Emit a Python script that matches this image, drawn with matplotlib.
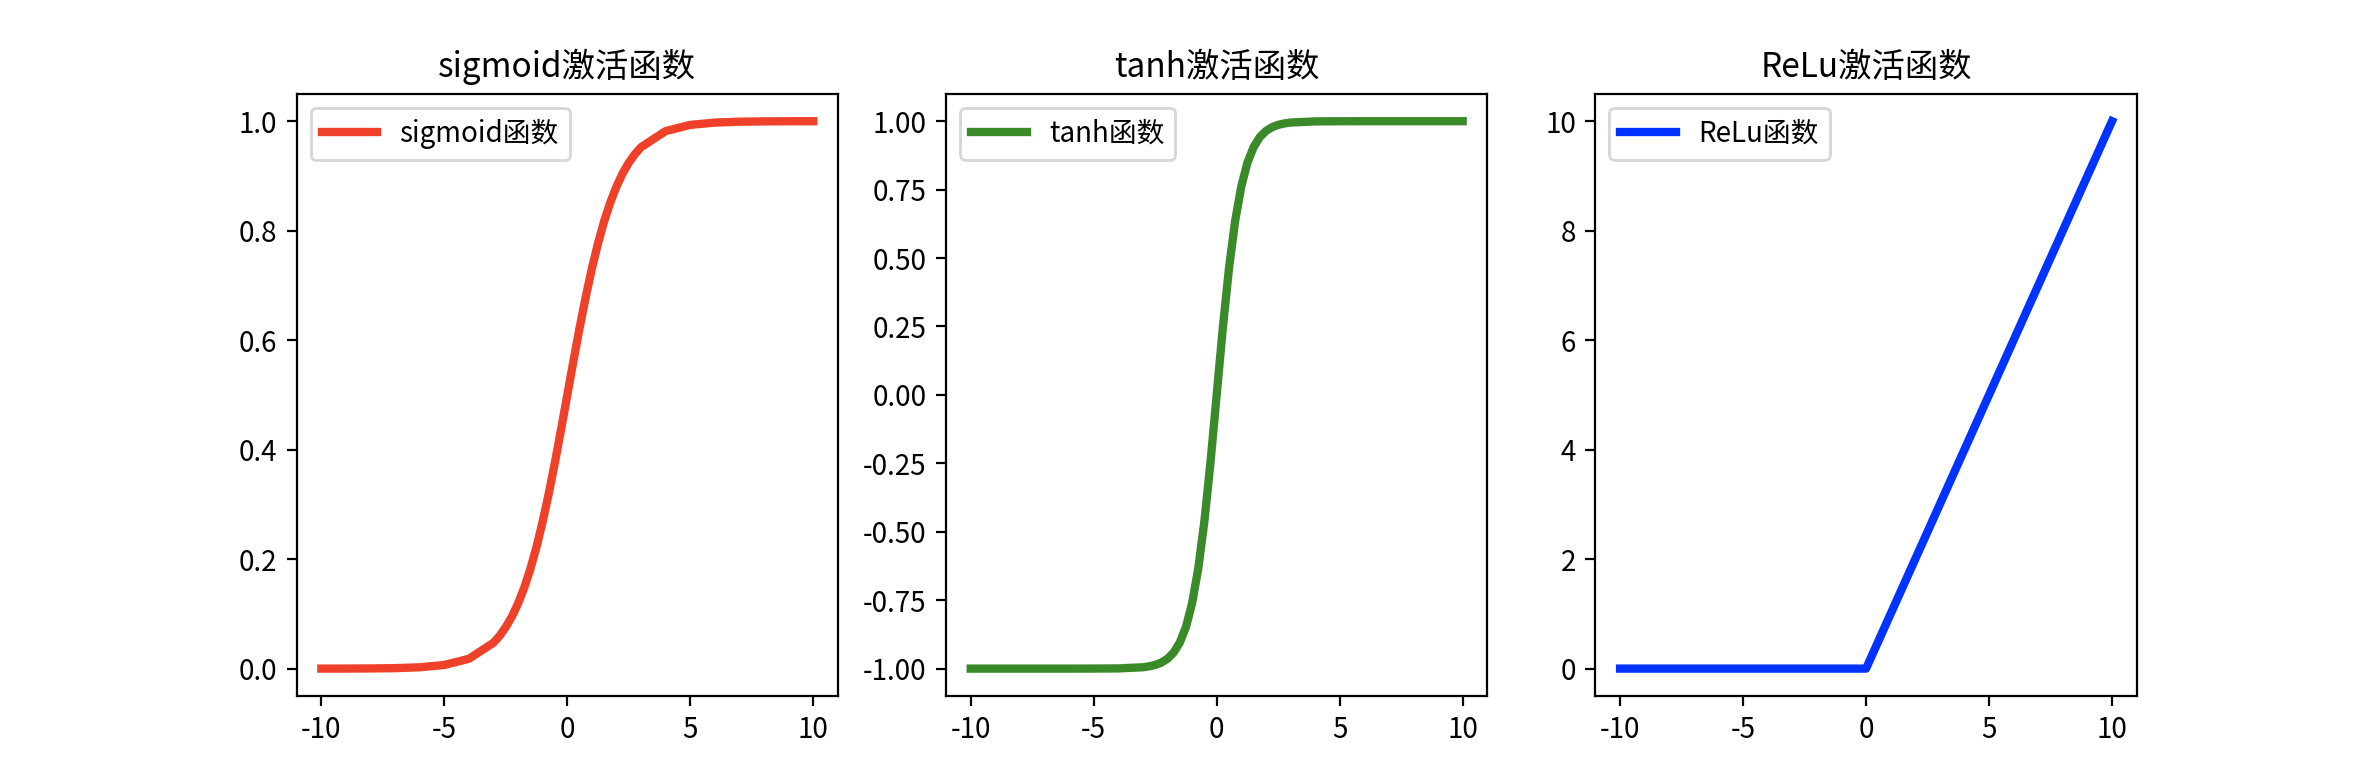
import matplotlib
matplotlib.use("Agg")
import matplotlib.pyplot as plt

plt.rcParams['font.family'] = ['Noto Sans CJK SC', 'DejaVu Sans']
plt.rcParams['axes.unicode_minus'] = False

x = [-10, -9, -8, -7, -6, -5, -4, -3, -2.75, -2.5, -2.25, -2, -1.75, -1.5, -1.25, -1,
     -0.75, -0.5, -0.25, 0, 0.25, 0.5, 0.75, 1, 1.25, 1.5, 1.75, 2, 2.25, 2.5, 2.75,
     3, 4, 5, 6, 7, 8, 9, 10]
sigmoid_y = [0.00005, 0.00012, 0.00034, 0.00091, 0.00247, 0.00669, 0.0180, 0.0474,
             0.0601, 0.0759, 0.0953, 0.1192, 0.1480, 0.1824, 0.2227, 0.2689, 0.3208,
             0.3775, 0.4378, 0.5, 0.5622, 0.6225, 0.6792, 0.7311, 0.7773, 0.8176,
             0.8520, 0.8808, 0.9047, 0.9241, 0.9399, 0.9526, 0.9820, 0.9933, 0.9975,
             0.9991, 0.9997, 0.9999, 1.0]
tanh_y = [-1.0, -1.0, -1.0, -1.0, -1.0, -0.9999, -0.9993, -0.9951, -0.9918, -0.9866,
          -0.9780, -0.9640, -0.9414, -0.9051, -0.8483, -0.7616, -0.6351, -0.4621,
          -0.2449, 0.0, 0.2449, 0.4621, 0.6351, 0.7616, 0.8483, 0.9051, 0.9414, 0.9640,
          0.9780, 0.9866, 0.9918, 0.9951, 0.9993, 0.9999, 1.0, 1.0, 1.0, 1.0, 1.0]
relu_y = [0, 0, 0, 0, 0, 0, 0, 0, 0, 0, 0, 0, 0, 0, 0, 0, 0, 0, 0, 0, 0.25, 0.5, 0.75,
          1, 1.25, 1.5, 1.75, 2, 2.25, 2.5, 2.75, 3, 4, 5, 6, 7, 8, 9, 10]

titles = ['sigmoid激活函数', 'tanh激活函数', 'ReLu激活函数']
labels = ['sigmoid函数', 'tanh函数', 'ReLu函数']
colors = ['#ef4129', '#3a8a2a', '#0033ff']
series = [sigmoid_y, tanh_y, relu_y]

fig, axes = plt.subplots(1, 3, figsize=(11.87, 3.91), dpi=200)
for ax, y, t, l, c in zip(axes, series, titles, labels, colors):
    ax.plot(x, y, color=c, lw=3, label=l)
    ax.set_title(t)
    ax.legend(loc='upper left')
axes[0].set_yticks([0.0, 0.2, 0.4, 0.6, 0.8, 1.0])
fig.savefig('out.png')
